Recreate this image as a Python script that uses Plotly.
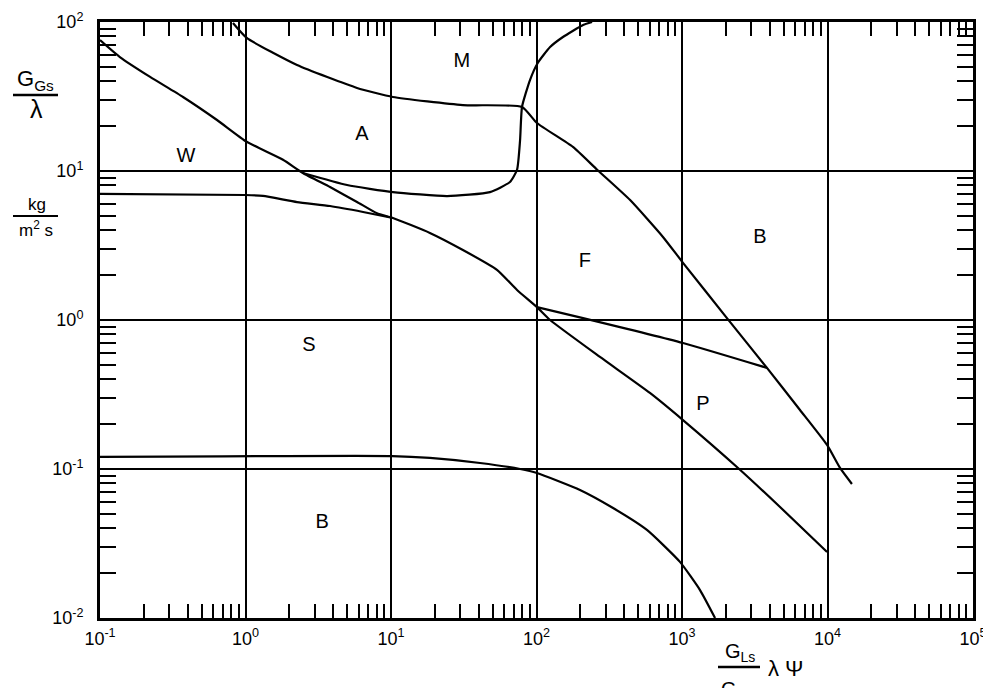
import plotly.graph_objects as go

# ---- data ----
# W / S boundary (upper-left curve continuing down to x=1e4)
ws_x = [0.1, 0.137, 0.221, 0.372, 0.637, 1.02, 1.81, 2.48, 3.81, 5.84, 8.01, 10.3, 18.5, 31.2, 53.5, 73.5, 100.7, 124, 273, 602, 1016, 2427, 4718, 9930]
ws_y = [75.7, 58.2, 42.8, 31.4, 22.0, 15.7, 11.9, 9.7, 7.8, 6.2, 5.2, 4.84, 3.84, 2.95, 2.17, 1.59, 1.22, 1.0, 0.565, 0.324, 0.213, 0.1016, 0.0556, 0.0277]

# S upper boundary starting at ~7
s_x = [0.1, 1.0, 1.32, 2.26, 3.81, 6.43, 10.3]
s_y = [7.02, 6.9, 6.8, 6.19, 5.82, 5.31, 4.84]

# A lower boundary rising into the M region
a_x = [2.48, 4.99, 10.3, 24.3, 47.9, 65.7, 73.5, 77.1, 79.5, 90.2, 102, 124, 152, 209, 241]
a_y = [9.7, 8.05, 7.22, 6.79, 7.22, 8.44, 10.2, 16.1, 26.9, 40.8, 53.1, 67.9, 79.3, 95.5, 100]

# M / A boundary continuing as B boundary
mb_x = [0.82, 1.02, 2.26, 5.84, 10.3, 31.2, 79.5, 100.7, 178, 261, 440, 740, 1016, 2037, 3837, 6471, 9930, 12190, 14720]
mb_y = [98.5, 78.2, 51.4, 36.1, 31.4, 27.7, 26.9, 21.0, 14.5, 10.2, 6.38, 3.61, 2.42, 1.03, 0.477, 0.249, 0.145, 0.1016, 0.0793]

# F / P boundary
fp_x = [100.7, 209, 1016, 3837]
fp_y = [1.22, 1.03, 0.701, 0.477]

# S / B (lower) boundary
sb_x = [0.1, 10.2, 18.5, 40.9, 77.1, 100.7, 199, 336, 574, 968, 1330, 1687]
sb_y = [0.1205, 0.122, 0.1186, 0.1097, 0.100, 0.094, 0.0723, 0.0547, 0.039, 0.0238, 0.0154, 0.01]

region_labels = ["M", "A", "W", "B", "F", "S", "P", "B"]
region_x = [30.7, 6.32, 0.39, 3436, 215, 2.73, 1393, 3.36]
region_y = [54, 17.5, 12.4, 3.55, 2.45, 0.67, 0.269, 0.0434]

x_tickvals = [0.1, 1, 10, 100, 1000, 10000, 100000]
x_ticktext = ["10<sup>-1</sup>", "10<sup>0</sup>", "10<sup>1</sup>", "10<sup>2</sup>",
              "10<sup>3</sup>", "10<sup>4</sup>", "10<sup>5</sup>"]
y_tickvals = [0.01, 0.1, 1, 10, 100]
y_ticktext = ["10<sup>-2</sup>", "10<sup>-1</sup>", "10<sup>0</sup>", "10<sup>1</sup>", "10<sup>2</sup>"]

# ---- figure ----
FONT = "Liberation Sans, Arial, sans-serif"
line_style = dict(color="black", width=2.2)

fig = go.Figure()
for xs, ys in [(ws_x, ws_y), (s_x, s_y), (a_x, a_y), (mb_x, mb_y), (fp_x, fp_y), (sb_x, sb_y)]:
    fig.add_trace(go.Scatter(x=xs, y=ys, mode="lines", line=dict(**line_style, shape="spline", smoothing=0.5),
                             hoverinfo="skip", showlegend=False))

fig.add_trace(go.Scatter(x=region_x, y=region_y, mode="text", text=region_labels,
                         textfont=dict(family=FONT, size=20, color="black"),
                         hoverinfo="skip", showlegend=False))

x_minor = [k * 10.0 ** n for n in range(-1, 5) for k in range(2, 10)]
y_minor = [k * 10.0 ** n for n in range(-2, 2) for k in range(2, 10)]

axis_common = dict(
    type="log", showline=True, linecolor="black", linewidth=3, mirror="allticks",
    showgrid=True, gridcolor="black", gridwidth=2, zeroline=False, automargin=False,
    ticks="inside", ticklen=14, tickwidth=2, tickcolor="black",
    tickfont=dict(family=FONT, size=18, color="black"),
)

fig.update_xaxes(**axis_common, range=[-1, 5], tickmode="array", tickvals=x_tickvals, ticktext=x_ticktext,
                 ticklabelstandoff=2,
                 minor=dict(tickmode="array", tickvals=x_minor, ticks="inside", ticklen=14, tickwidth=2,
                            tickcolor="black", showgrid=False))
fig.update_yaxes(**axis_common, range=[-2, 2], tickmode="array", tickvals=y_tickvals, ticktext=y_ticktext,
                 ticklabelstandoff=10,
                 minor=dict(tickmode="array", tickvals=y_minor, ticks="inside", ticklen=16, tickwidth=2,
                            tickcolor="black", showgrid=False))

# the page body adds an 8px offset; work in page pixels and compensate
OFF = 8
W, H = 991, 688
PL, PR, PT, PB = 100, 973, 22, 618   # plot-area edges in page pixels
L, T = PL - OFF, PT - OFF
R = W - (PR - OFF)
B = H - (PB - OFF)


def px(xp):
    return (xp - PL) / (PR - PL)


def py(yp):
    return (PB - yp) / (PB - PT)


ann = []
shapes = []
# y-axis title: G_Gs / lambda
ann.append(dict(x=px(35), y=py(80), text="G<sub>Gs</sub>", font=dict(family=FONT, size=22)))
shapes.append(dict(type="line", xref="paper", yref="paper", x0=px(13), x1=px(58), y0=py(95), y1=py(95),
                   line=dict(color="black", width=2.5)))
ann.append(dict(x=px(36), y=py(109), text="λ", font=dict(family=FONT, size=25)))
# units kg / m^2 s
ann.append(dict(x=px(37), y=py(205), text="kg", font=dict(family=FONT, size=17)))
shapes.append(dict(type="line", xref="paper", yref="paper", x0=px(13), x1=px(58), y0=py(216), y1=py(216),
                   line=dict(color="black", width=2)))
ann.append(dict(x=px(36), y=py(229), text="m<sup>2</sup> s", font=dict(family=FONT, size=17)))
# x-axis title
ann.append(dict(x=px(740), y=py(652), text="G<sub>Ls</sub>", font=dict(family=FONT, size=20)))
shapes.append(dict(type="line", xref="paper", yref="paper", x0=px(718), x1=px(760), y0=py(667), y1=py(667),
                   line=dict(color="black", width=2.5)))
ann.append(dict(x=px(737), y=py(690), text="G<sub>Gs</sub>", font=dict(family=FONT, size=20)))
ann.append(dict(x=px(786), y=py(668), text="λ Ψ", font=dict(family=FONT, size=22)))

for a in ann:
    a.update(xref="paper", yref="paper", showarrow=False, xanchor="center", yanchor="middle")

fig.update_layout(
    width=W, height=H, margin=dict(l=L, r=R, t=T, b=B, autoexpand=False),
    plot_bgcolor="white", paper_bgcolor="white",
    annotations=ann, shapes=shapes,
    font=dict(family=FONT, color="black"),
)

fig.write_html("out.html")
